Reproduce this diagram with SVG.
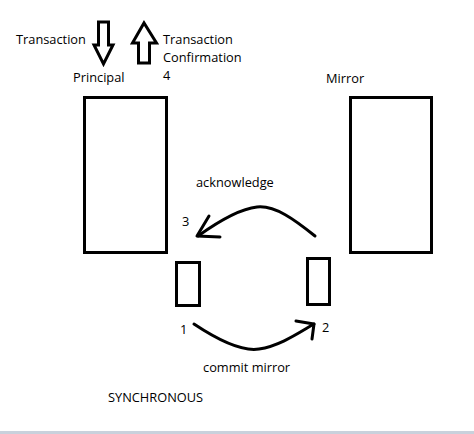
<svg xmlns="http://www.w3.org/2000/svg" width="474" height="434" viewBox="0 0 474 434">
<style>
text{font-family:"Open Sans","Noto Sans","DejaVu Sans",sans-serif;font-size:12.8px;fill:#000}
.box{fill:#fff;stroke:#000;stroke-width:3}
.bigarrow{fill:#fff;stroke:#000;stroke-width:3;stroke-linejoin:miter}
.conn{fill:none;stroke:#000;stroke-width:3;stroke-linecap:round;stroke-linejoin:round}
</style>
<rect width="474" height="434" fill="#fff"/>
<g id="principal">
<rect class="box" x="84.5" y="97.5" width="82" height="155"/>
<text x="73" y="82">Principal</text>
</g>
<g id="mirror">
<rect class="box" x="350.5" y="97.5" width="81" height="155"/>
<text x="326" y="83">Mirror</text>
</g>
<g id="log1">
<rect class="box" x="176.5" y="262.5" width="23" height="43"/>
<text x="180" y="334">1</text>
</g>
<g id="log2">
<rect class="box" x="307.5" y="258.5" width="22" height="46"/>
<text x="322" y="332">2</text>
</g>
<g id="transaction-in">
<polygon class="bigarrow" points="98.5,22 108.5,22 108.5,45 113,45 103.5,64 94,45 98.5,45"/>
<text x="16" y="44">Transaction</text>
</g>
<g id="transaction-out">
<polygon class="bigarrow" points="138.5,63 149.5,63 149.5,43 156.5,43 144,23 132.5,43 138.5,43"/>
<text x="163" y="44">Transaction</text>
<text x="163" y="62">Confirmation</text>
<text x="163" y="80">4</text>
</g>
<g id="connectors">
<path class="conn" d="M315,236 C295,220 275,205 257,207 C238,209 212,226 198,236"/>
<path class="conn" d="M209,216 L197,236 L220,237"/>
<path class="conn" d="M194,324 C215,338 240,352 259,349 C280,346 300,332 314,324"/>
<path class="conn" d="M296,321 L314,324 L312,339"/>
</g>
<g id="labels">
<text x="196" y="187">acknowledge</text>
<text x="182" y="226">3</text>
<text x="203" y="372">commit mirror</text>
<text x="108" y="402">SYNCHRONOUS</text>
</g>
<rect x="0" y="431" width="474" height="3" fill="#c9d1dc"/>
</svg>
